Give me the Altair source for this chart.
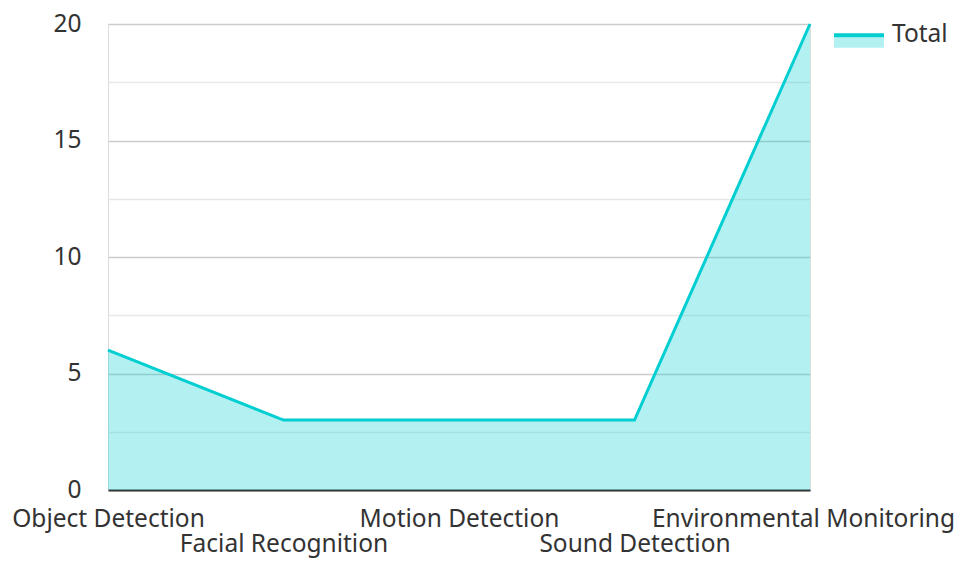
import altair as alt
import pandas as pd

categories = ["Object Detection", "Facial Recognition", "Motion Detection",
              "Sound Detection", "Environmental Monitoring"]
values = [6, 3, 3, 3, 20]
series_name = "Total"
y_ticks = [0, 2.5, 5, 7.5, 10, 12.5, 15, 17.5, 20]
staggered = ["Facial Recognition", "Sound Detection"]

df = pd.DataFrame({"category": categories, "value": values,
                   "series": [series_name] * len(categories)})

LINE = "#00CED1"
FONT = "Noto Sans"
FS = 24.5
stagger_test = "indexof(" + str(staggered) + ", datum.value) >= 0"

x = alt.X(
    "category:N", sort=categories,
    scale=alt.Scale(type="point", padding=0),
    axis=alt.Axis(
        title=None, labelAngle=0, labelOverlap=False, labelLimit=0,
        labelPadding={"condition": {"test": stagger_test, "value": 42}, "value": 17.5},
        labelOffset={"condition": {"test": "datum.value == '" + categories[-1] + "'", "value": -7},
                     "value": 0},
        ticks=False, grid=False,
        domainColor="#333333", domainWidth=2,
        labelFontSize=FS, labelColor="#333333", labelFont=FONT,
    ),
)
y = alt.Y(
    "value:Q",
    scale=alt.Scale(domain=[0, 20], nice=False),
    axis=alt.Axis(
        title=None, values=y_ticks,
        labelExpr="datum.value % 5 == 0 ? datum.label : ''",
        gridColor={"condition": {"test": "datum.value % 5 == 0", "value": "#cccccc"},
                   "value": "#e8e8e8"},
        gridWidth=1.5,
        domain=False, ticks=False,
        labelFontSize=FS, labelColor="#333333", labelPadding=27, labelFont=FONT,
    ),
)

area = alt.Chart(df).mark_area(fillOpacity=0.3).encode(
    x=x, y=y,
    fill=alt.Fill(
        "series:N", scale=alt.Scale(range=[LINE]),
        legend=alt.Legend(
            orient="none", legendX=726, legendY=-14.2, title=None, padding=0,
            symbolType="M-1,0.1H1V0.52H-1Z", symbolSize=2500,
            symbolOpacity=0.3, symbolStrokeWidth=0,
            labelFontSize=FS, labelOpacity=0, labelOffset=6, labelFont=FONT,
        ),
    ),
)
line = alt.Chart(df).mark_line(strokeWidth=3).encode(
    x=x, y=y,
    stroke=alt.Stroke(
        "series:N", scale=alt.Scale(range=[LINE]),
        legend=alt.Legend(
            orient="none", legendX=724, legendY=-16.2, title=None, padding=0,
            symbolType="M-1,0.02H1", symbolSize=2500, symbolStrokeWidth=4,
            labelFontSize=FS, labelColor="#333333", labelOffset=6, labelFont=FONT,
        ),
    ),
)

chart = (area + line).properties(
    width=702, height=466,
    autosize=alt.AutoSizeParams(type="none"),
    padding={"left": 100, "top": 16, "right": 145, "bottom": 68},
).configure_view(stroke=None).configure(font=FONT)

chart.save("out.html", embed_options={"renderer": "svg", "actions": False})
